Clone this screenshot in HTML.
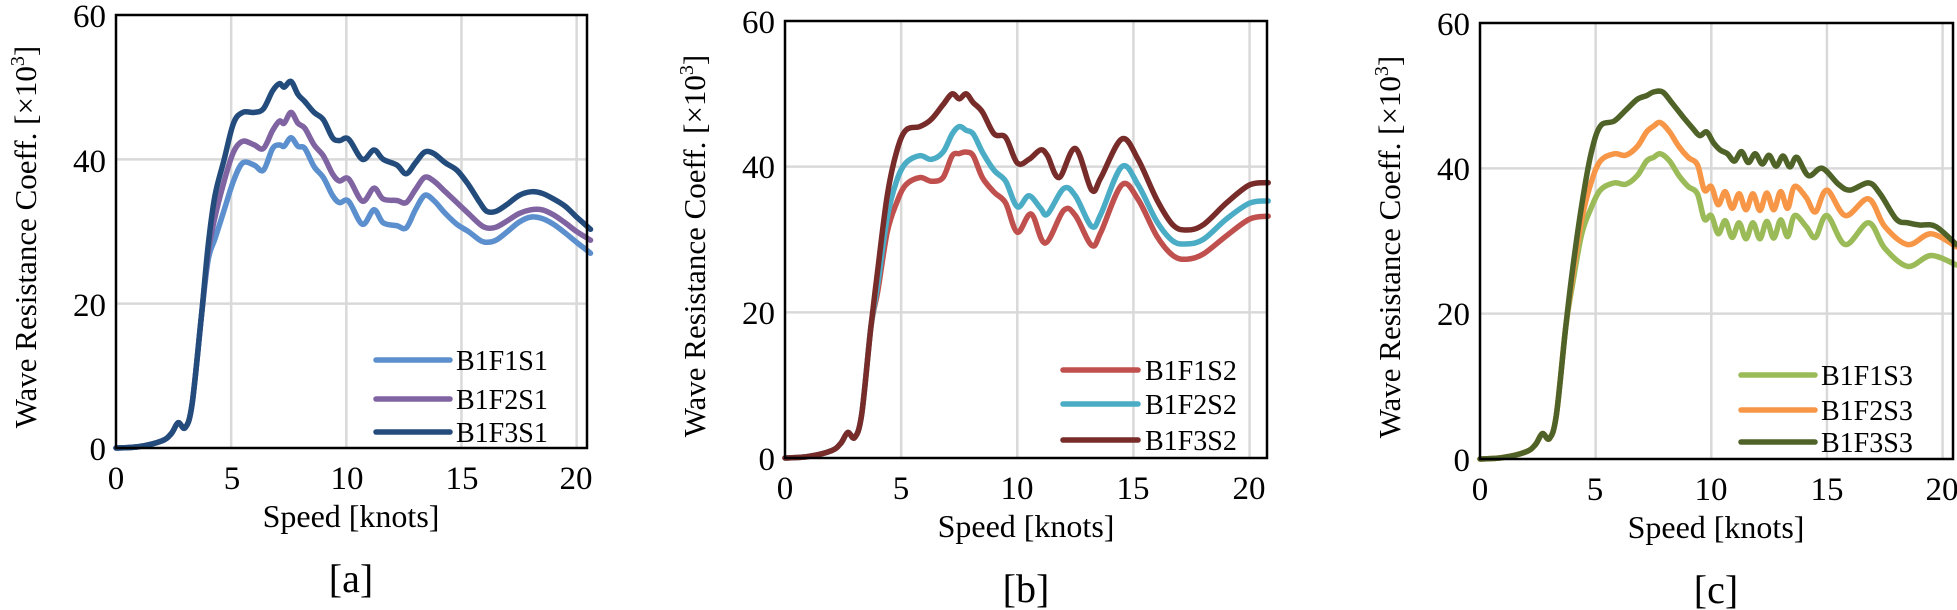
<!DOCTYPE html>
<html><head><meta charset="utf-8">
<style>
html,body{margin:0;padding:0;background:#fff;}
svg{display:block;}
text{font-family:"Liberation Serif","Times New Roman",serif;fill:#000;}
</style></head>
<body>
<svg id="s" width="1957" height="610" xmlns="http://www.w3.org/2000/svg" font-family="Liberation Serif, serif">
<g id="grid"></g>
<g id="lines"></g>
<g id="axes"></g>
<!-- Panel a texts -->
<g font-size="33">
<text x="106" y="27" text-anchor="end">60</text>
<text x="106" y="172" text-anchor="end">40</text>
<text x="106" y="316" text-anchor="end">20</text>
<text x="106" y="460" text-anchor="end">0</text>
<text x="116" y="489" text-anchor="middle">0</text>
<text x="232" y="489" text-anchor="middle">5</text>
<text x="347" y="489" text-anchor="middle">10</text>
<text x="462" y="489" text-anchor="middle">15</text>
<text x="576" y="489" text-anchor="middle">20</text>
<text x="351" y="527" text-anchor="middle" font-size="32">Speed [knots]</text>
<text x="351" y="592" text-anchor="middle" font-size="40">[a]</text>
<text transform="translate(36,237) rotate(-90)" text-anchor="middle" font-size="31">Wave Resistance Coeff. [×10<tspan font-size="20" dy="-12">3</tspan><tspan dy="12">]</tspan></text>
<text x="456" y="370" font-size="28">B1F1S1</text>
<text x="456" y="409" font-size="28">B1F2S1</text>
<text x="456" y="442" font-size="28">B1F3S1</text>
</g>
<!-- Panel b texts -->
<g font-size="33">
<text x="775" y="33" text-anchor="end">60</text>
<text x="775" y="178" text-anchor="end">40</text>
<text x="775" y="324" text-anchor="end">20</text>
<text x="775" y="470" text-anchor="end">0</text>
<text x="785" y="499" text-anchor="middle">0</text>
<text x="901" y="499" text-anchor="middle">5</text>
<text x="1017" y="499" text-anchor="middle">10</text>
<text x="1133" y="499" text-anchor="middle">15</text>
<text x="1249" y="499" text-anchor="middle">20</text>
<text x="1026" y="537" text-anchor="middle" font-size="32">Speed [knots]</text>
<text x="1026" y="602" text-anchor="middle" font-size="40">[b]</text>
<text transform="translate(705,246) rotate(-90)" text-anchor="middle" font-size="31">Wave Resistance Coeff. [×10<tspan font-size="20" dy="-12">3</tspan><tspan dy="12">]</tspan></text>
<text x="1145" y="380" font-size="28">B1F1S2</text>
<text x="1145" y="414" font-size="28">B1F2S2</text>
<text x="1145" y="450" font-size="28">B1F3S2</text>
</g>
<!-- Panel c texts -->
<g font-size="33">
<text x="1470" y="35" text-anchor="end">60</text>
<text x="1470" y="180" text-anchor="end">40</text>
<text x="1470" y="325" text-anchor="end">20</text>
<text x="1470" y="471" text-anchor="end">0</text>
<text x="1480" y="500" text-anchor="middle">0</text>
<text x="1595" y="500" text-anchor="middle">5</text>
<text x="1711" y="500" text-anchor="middle">10</text>
<text x="1827" y="500" text-anchor="middle">15</text>
<text x="1942" y="500" text-anchor="middle">20</text>
<text x="1716" y="538" text-anchor="middle" font-size="32">Speed [knots]</text>
<text x="1716" y="603" text-anchor="middle" font-size="40">[c]</text>
<text transform="translate(1400,247) rotate(-90)" text-anchor="middle" font-size="31">Wave Resistance Coeff. [×10<tspan font-size="20" dy="-12">3</tspan><tspan dy="12">]</tspan></text>
<text x="1821" y="385" font-size="28">B1F1S3</text>
<text x="1821" y="420" font-size="28">B1F2S3</text>
<text x="1821" y="452" font-size="28">B1F3S3</text>
</g>
</svg>
<script>
var NS="http://www.w3.org/2000/svg";
function el(p,t,a){var e=document.createElementNS(NS,t);for(var k in a)e.setAttribute(k,a[k]);document.getElementById(p).appendChild(e);return e;}
function path(pts){var d="M"+pts[0][0].toFixed(1)+","+pts[0][1].toFixed(1);
for(var i=0;i<pts.length-1;i++){var p0=pts[Math.max(0,i-1)],p1=pts[i],p2=pts[i+1],p3=pts[Math.min(pts.length-1,i+2)];
var c1=[p1[0]+(p2[0]-p0[0])/6,p1[1]+(p2[1]-p0[1])/6],c2=[p2[0]-(p3[0]-p1[0])/6,p2[1]-(p3[1]-p1[1])/6];
d+="C"+c1[0].toFixed(1)+","+c1[1].toFixed(1)+" "+c2[0].toFixed(1)+","+c2[1].toFixed(1)+" "+p2[0].toFixed(1)+","+p2[1].toFixed(1);}
return d;}
function P(L,R,T,B,xmax){return {L:L,R:R,T:T,B:B,x:function(v){return L+v*(R-L)/xmax;},y:function(v){return B-v*(B-T)/60;}};}
var pa=P(116,587,15,448,20.45),pb=P(785,1267,21,458,20.75),pc=P(1480,1953,23,459,20.45);
[pa,pb,pc].forEach(function(p){
 [5,10,15,20].forEach(function(k){var x=p.x(k);if(x<p.R-2)el("grid","line",{x1:x,x2:x,y1:p.T,y2:p.B,stroke:"#d9d9d9","stroke-width":2.5});});
 [20,40].forEach(function(v){var y=p.y(v);el("grid","line",{x1:p.L,x2:p.R,y1:y,y2:y,stroke:"#d9d9d9","stroke-width":2.5});});
 el("axes","rect",{x:p.L,y:p.T,width:p.R-p.L,height:p.B-p.T,fill:"none",stroke:"#000","stroke-width":2.5});
});
function draw(p,data,color){
 var pts=[];for(var i=0;i<data.length;i+=2){pts.push([p.x(data[i]),p.y(data[i+1])]);}
 el("lines","path",{d:path(pts),fill:"none",stroke:color,"stroke-width":5.5,"stroke-linejoin":"round","stroke-linecap":"round"});
}
var low=[0,0,1,0.2,2,1,2.4,2,2.7,3.5,3.0,2.8,3.3,6,3.7,18];
var navyA=low.concat([4,28,4.3,35,4.7,40,5.1,45,5.5,46.5,6,46.5,6.4,47,6.8,49.5,7.1,50.5,7.3,50,7.6,50.8,7.9,49,8.2,48,8.6,46.5,9,45.5,9.4,43,9.7,42.6,10.1,42.8,10.7,40,11.2,41.3,11.6,40,12.2,39.2,12.6,38,13.0,39.5,13.4,41,13.8,40.8,14.3,39.5,14.8,38.5,15.3,36.5,15.8,34,16.1,32.8,16.5,32.8,17,33.8,17.5,35,18,35.5,18.5,35.3,19,34.5,19.5,33.5,20,32,20.6,30.3]);
var purA=low.concat([4,27,4.3,32,4.7,37,5.1,41,5.5,42.5,6,42,6.4,41.5,6.8,44,7.1,45.3,7.3,45,7.6,46.5,7.9,45,8.2,44.3,8.6,42,9,40.5,9.4,38,9.7,37,10.1,37.3,10.7,34.2,11.2,36,11.6,34.5,12.2,34.3,12.6,34,13.0,35.8,13.4,37.5,13.8,37,14.3,35.5,14.8,34,15.3,32.5,15.8,31,16.1,30.5,16.5,30.6,17,31.5,17.5,32.5,18,33,18.5,33,19,32.3,19.5,31.2,20,30,20.6,28.8]);
var bluA=low.concat([4,26,4.3,29,4.7,33,5.1,37,5.5,39.5,6,39.2,6.4,38.5,6.8,41.5,7.1,42,7.3,41.8,7.6,43,7.9,41.8,8.2,41.5,8.6,39,9,37.5,9.4,35,9.7,34,10.1,34.2,10.7,31,11.2,33,11.6,31.2,12.2,30.8,12.6,30.5,13.0,33,13.4,35,13.8,34.3,14.3,32.5,14.8,31,15.3,30,15.8,28.8,16.1,28.5,16.5,28.8,17,30,17.5,31.3,18,32,18.5,31.8,19,31,19.5,29.8,20,28.5,20.6,27]);
draw(pa,bluA,"#5b8fcd");draw(pa,purA,"#8064a2");draw(pa,navyA,"#234c7c");
var drB=low.concat([4,26,4.4,36,4.8,42,5.2,45,5.8,45.5,6.3,46.5,6.8,48.5,7.2,50,7.5,49.3,7.8,50,8.1,48.8,8.5,47.5,9,44.5,9.5,44,10,40.5,10.5,41,11,42.3,11.3,41.5,11.8,38.5,12.5,42.5,13.2,36.8,13.6,38.5,14.5,43.8,15.2,41,16,35.5,16.7,32,17.3,31.3,18,32,19,35,20,37.5,20.8,37.8]);
var cyB=low.concat([4,24,4.4,33,4.8,38,5.2,40.5,5.8,41.5,6.3,41,6.8,42,7.2,44.5,7.5,45.5,7.8,45,8.1,44.5,8.5,42,9,39.5,9.5,38,10,34.5,10.5,36,11,34.3,11.3,33.5,12,37,12.5,36,13.2,31.8,13.6,33.5,14.5,40,15.2,37.5,16,32.5,16.7,29.8,17.3,29.4,18,30,19,32.8,20,35,20.8,35.3]);
var reB=low.concat([4,23,4.4,31,4.8,35,5.2,37.5,5.8,38.5,6.3,38,6.8,38.5,7.2,41.5,7.5,41.8,7.8,42,8.1,41.5,8.5,38.5,9,36.5,9.5,35,10,31,10.6,33.5,11.2,29.5,12,34,12.5,33.3,13.2,29.2,13.6,31,14.5,37.5,15.2,35.5,16,30.5,16.7,27.8,17.3,27.3,18,28,19,30.5,20,32.8,20.8,33.2]);
draw(pb,reB,"#c0504d");draw(pb,cyB,"#4bacc6");draw(pb,drB,"#772c2a");
var dgC=low.concat([4,26,4.4,35,4.8,42,5.2,45.8,5.8,46.5,6.3,48,6.8,49.5,7.2,50,7.5,50.5,7.9,50.5,8.3,49,8.8,47,9.2,45.5,9.5,44.5,9.8,45,10.1,43.5,10.4,42.5,10.7,42,11.0,41,11.3,42.3,11.6,40.8,11.9,42,12.2,40.6,12.5,41.8,12.8,40.3,13.1,41.7,13.4,40.2,13.7,41.5,14.2,39,14.8,40,15.5,37.8,16,37,16.8,38,17.3,36.5,18,33,18.5,32.5,19,32.2,19.7,32,20.6,29.5]);
var orC=low.concat([4,25,4.4,33,4.8,38,5.2,41,5.8,42,6.3,41.8,6.8,43,7.2,45,7.5,45.8,7.8,46.3,8.2,45,8.6,43,9,41.5,9.4,40.5,9.7,37,10.0,37.5,10.3,35,10.6,36.8,10.9,34.5,11.2,36.5,11.5,34.3,11.8,36.5,12.1,34.2,12.4,36.6,12.7,34.3,13.0,36.8,13.3,34.5,13.6,37.5,14.1,36,14.5,34,15,37,15.8,33.5,16.8,35.8,17.5,32,18.5,29.5,19.5,31,20.6,29.2]);
var lgC=low.concat([4,24,4.4,31,4.8,34.5,5.2,37,5.8,38,6.3,37.8,6.8,39,7.2,41,7.5,41.5,7.8,42,8.2,41,8.6,39,9,37.5,9.4,36.5,9.7,33,10.0,33.5,10.3,31,10.6,32.8,10.9,30.5,11.2,32.5,11.5,30.3,11.8,32.5,12.1,30.3,12.4,32.7,12.7,30.4,13.0,32.9,13.3,30.6,13.6,33.5,14.1,32,14.5,30.5,15,33.5,15.8,29.5,16.8,32.5,17.5,29,18.5,26.5,19.5,28,20.6,26.7]);
draw(pc,lgC,"#9bbb59");draw(pc,orC,"#f79646");draw(pc,dgC,"#4f6228");
function leg(x1,x2,y,c){el("lines","line",{x1:x1,x2:x2,y1:y,y2:y,stroke:c,"stroke-width":5.5,"stroke-linecap":"round"});}
leg(376,450,360,"#5b8fcd");leg(376,450,399,"#8064a2");leg(376,450,432,"#234c7c");
leg(1063,1138,370,"#c0504d");leg(1063,1138,404,"#4bacc6");leg(1063,1138,440,"#772c2a");
leg(1741,1815,375,"#9bbb59");leg(1741,1815,410,"#f79646");leg(1741,1815,442,"#4f6228");
</script>
</body></html>
